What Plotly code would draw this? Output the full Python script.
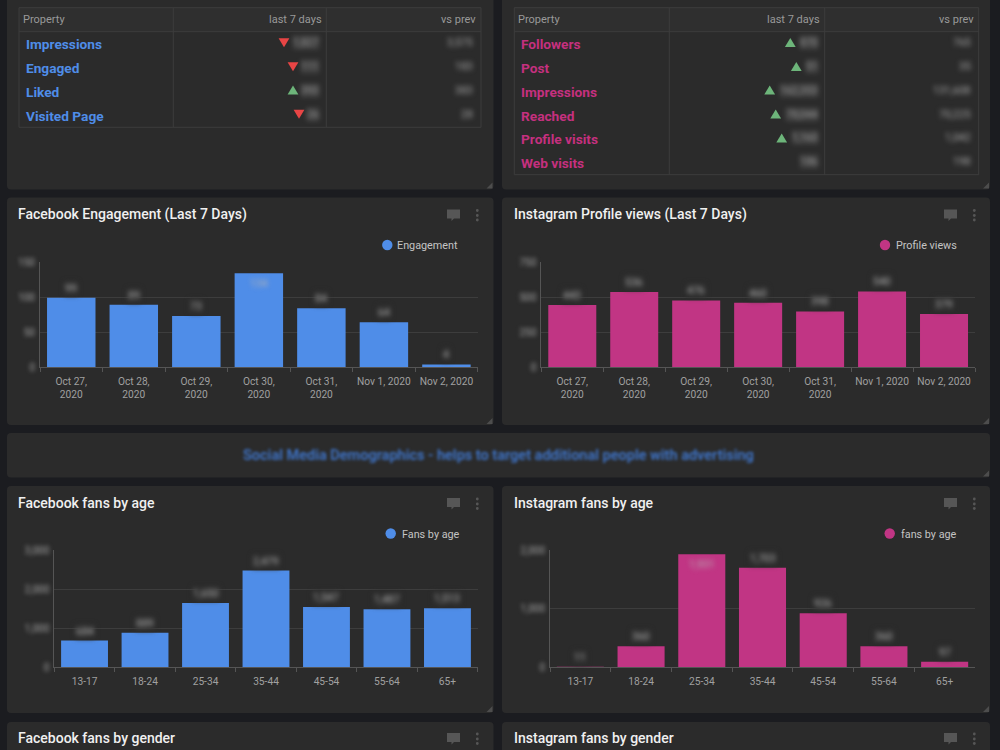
import json
import plotly.graph_objects as go

# ---------- data ----------
DATES = ["Oct 27,<br>2020", "Oct 28,<br>2020", "Oct 29,<br>2020", "Oct 30,<br>2020",
         "Oct 31,<br>2020", "Nov 1, 2020", "Nov 2, 2020"]
AGES = ["13-17", "18-24", "25-34", "35-44", "45-54", "55-64", "65+"]
FB_ENGAGEMENT = [99, 89, 73, 134, 84, 64, 4]
IG_PROFILE_VIEWS = [443, 536, 476, 460, 398, 540, 379]
FB_FANS_AGE = [684, 889, 1650, 2479, 1547, 1487, 1513]
IG_FANS_AGE = [11, 360, 1931, 1703, 926, 360, 97]
FB_ENG_TICKS = [0, 50, 100, 150]
IG_VIEW_TICKS = [0, 250, 500, 750]
FB_AGE_TICKS = [0, 1000, 2000, 3000]
IG_AGE_TICKS = [0, 1000, 2000]

FB_PROPS = ["Impressions", "Engaged", "Liked", "Visited Page"]
FB_LAST = ["1,827", "111", "393", "26"]
FB_PREV = ["3,575", "183", "383", "28"]
FB_TREND = ["down", "down", "up", "down"]
IG_PROPS = ["Followers", "Post", "Impressions", "Reached", "Profile visits", "Web visits"]
IG_LAST = ["870", "51", "162,353", "78,044", "1,160", "186"]
IG_PREV = ["765", "35", "131,608", "70,225", "1,042", "198"]
IG_TREND = ["up", "up", "up", "up", "up", None]

BANNER = "Social Media Demographics - helps to target additional people with advertising"

# ---------- style ----------
FONT = "Roboto"
PAGE = "#1b1c20"
PANEL = "#2b2b2b"
BLUE = "#4f8de8"
PINK = "#c13584"
W, H = 1000, 750
px = lambda x: x / W
py = lambda y: 1 - y / H

shapes = []
annots = []
blur = {}


def note(x, y, text, size=11, color="#999999", anchor="left", weight=400, blur_px=None,
         bg=None, xref="paper", yref="paper", yanchor="middle", yshift=0):
    a = dict(x=px(x) if xref == "paper" else x, y=py(y) if yref == "paper" else y,
             xref=xref, yref=yref, text=text, showarrow=False, xanchor=anchor, yanchor=yanchor,
             yshift=yshift, align=anchor if anchor != "center" else "center",
             font=dict(family=FONT, size=size, color=color, weight=weight),
             borderpad=0)
    if bg:
        a["bgcolor"] = bg
    annots.append(a)
    if blur_px:
        blur.setdefault(str(blur_px), []).append(len(annots) - 1)


def path(points):
    return "M" + " L".join(f"{px(x):.5f},{py(y):.5f}" for x, y in points) + " Z"


def fill(d, color, layer="below"):
    shapes.append(dict(type="path", xref="paper", yref="paper", path=d, fillcolor=color,
                       line=dict(width=0), layer=layer))


def line(x0, y0, x1, y1, color="#3d3d3d", width=1):
    shapes.append(dict(type="line", xref="paper", yref="paper", x0=px(x0), y0=py(y0), x1=px(x1),
                       y1=py(y1), line=dict(color=color, width=width), layer="below"))


def panel(x0, y0, x1, y1, r=4, grip=True):
    P = lambda x, y: f"{px(x):.5f},{py(y):.5f}"
    d = "M" + P(x0 + r, y0)
    d += " L" + P(x1 - r, y0) + " Q" + P(x1, y0) + " " + P(x1, y0 + r)
    d += " L" + P(x1, y1 - r) + " Q" + P(x1, y1) + " " + P(x1 - r, y1)
    d += " L" + P(x0 + r, y1) + " Q" + P(x0, y1) + " " + P(x0, y1 - r)
    d += " L" + P(x0, y0 + r) + " Q" + P(x0, y0) + " " + P(x0 + r, y0) + " Z"
    fill(d, PANEL)
    if grip:
        fill(path([(x1 - 1, y1 - 7), (x1 - 1, y1 - 1), (x1 - 7, y1 - 1)]), "#4d4d4d")


def icons(xc, xk, y):
    # comment bubble and kebab menu of a card header
    fill(path([(xc, y), (xc + 13, y), (xc + 13, y + 9), (xc + 7, y + 9), (xc + 4.5, y + 11.5),
               (xc + 4.5, y + 9), (xc, y + 9)]), "#565656")
    for dy in (1, 6, 10.5):
        shapes.append(dict(type="circle", xref="paper", yref="paper", x0=px(xk - 1.4), x1=px(xk + 1.4),
                           y0=py(y + dy + 1.4), y1=py(y + dy - 1.4), fillcolor="#565656",
                           line=dict(width=0), layer="below"))


# ---------- cards ----------
for (a, b) in ((7, 493.5), (502, 990)):
    panel(a, -10, b, 189.5)
    panel(a, 197.5, b, 425)
    panel(a, 486, b, 713)
    panel(a, 722, b, 760, grip=False)
panel(7, 433, 990, 477.5)

for xc, xk in ((447, 477.3), (944, 974.3)):
    for y in (209.5, 498, 733):
        icons(xc, xk, y)

TITLES = [(17, 214, "Facebook Engagement (Last 7 Days)"), (512.5, 214, "Instagram Profile views (Last 7 Days)"),
          (17, 503, "Facebook fans by age"), (512.5, 503, "Instagram fans by age"),
          (17, 738, "Facebook fans by gender"), (512.5, 738, "Instagram fans by gender")]
for x, y, t in TITLES:
    note(x, y, t, size=14, color="#f0f0f0", weight=500)

note(498, 455, BANNER, size=14.5, color="#3f76cc", anchor="center", weight=600, blur_px=1.8)


# ---------- tables ----------
def table(x0, x1, c1, c2, y1, props, last, prev, trend, color, tri_x):
    fill(path([(x0, 7.7), (x1, 7.7), (x1, 31.7), (x0, 31.7)]), "#2f2f2f")
    for a, b, c, d in ((x0, 7.7, x1, 7.7), (x0, 31.7, x1, 31.7), (x0, y1, x1, y1), (x0, 7.7, x0, y1),
                       (x1, 7.7, x1, y1), (c1, 7.7, c1, y1), (c2, 7.7, c2, y1)):
        line(a, b, c, d)
    note(x0 + 3, 20, "Property", size=11)
    note(c2 - 3.5, 20, "last 7 days", size=11, anchor="right")
    note(x1 - 4, 20, "vs prev", size=11, anchor="right")
    ys = [44, 68, 91.5, 115.5, 139.5, 163.5]
    for i, p in enumerate(props):
        note(x0 + 5.5, ys[i], p, size=13.7, color=color, weight=700)
        note(c2 - 6, ys[i] - 1.5, last[i], size=10.5, color="#9a9a9a", anchor="right", blur_px=2.4,
             bg="rgba(255,255,255,0.09)")
        note(x1 - 7, ys[i] - 1.5, prev[i], size=10.5, color="#a5a5a5", anchor="right", blur_px=2.4)
        if trend[i]:
            xt = tri_x[i]
            yc = ys[i] - 1.4
            if trend[i] == "down":
                fill(path([(xt - 5.4, yc - 4.4), (xt + 5.4, yc - 4.4), (xt, yc + 4.6)]), "#e84545")
            else:
                fill(path([(xt - 5.4, yc + 4.4), (xt + 5.4, yc + 4.4), (xt, yc - 4.6)]), "#6db57a")


table(19, 481, 173.3, 326.3, 127.3, FB_PROPS, FB_LAST, FB_PREV, FB_TREND, BLUE, [284, 293, 293, 299])
table(514.3, 978.7, 669.3, 824.7, 174.7, IG_PROPS, IG_LAST, IG_PREV, IG_TREND, "#c5307f",
      [790.3, 796.3, 769.7, 775.7, 781.7])

# ---------- bar charts ----------
fig = go.Figure()
layout_axes = {}
CHARTS = [
    (DATES, FB_ENGAGEMENT, FB_ENG_TICKS, BLUE, "Engagement", (40, 477.7, 262, 367.3), (387.3, 245, 396)),
    (DATES, IG_PROFILE_VIEWS, IG_VIEW_TICKS, PINK, "Profile views", (541.3, 975, 262, 367.3), (885, 245, 894.5)),
    (AGES, FB_FANS_AGE, FB_AGE_TICKS, BLUE, "Fans by age", (54.3, 477.7, 550.3, 667.3), (390.7, 533.5, 400.5)),
    (AGES, IG_FANS_AGE, IG_AGE_TICKS, PINK, "fans by age", (550, 975, 550.3, 667.3), (889.7, 533.5, 899.5)),
]
for n, (cats, vals, ticks, col, name, box, leg) in enumerate(CHARTS, start=1):
    x0, x1, y0, y1 = box
    xa, ya = f"x{n}", f"y{n}"
    fig.add_trace(go.Bar(x=cats, y=vals, marker=dict(color=col, line=dict(width=0)), name=name,
                         xaxis=xa, yaxis=ya, width=0.775, showlegend=False))
    layout_axes[f"xaxis{n}"] = dict(domain=[px(x0), px(x1)], anchor=ya, type="category", tickson="boundaries",
                                    ticks="outside", ticklen=4, tickcolor="#555555", tickwidth=1,
                                    showline=True, linecolor="#555555", linewidth=1, showgrid=False,
                                    tickfont=dict(family=FONT, size=10.2, color="#a0a0a0"), tickangle=0,
                                    ticklabelstandoff=4, fixedrange=True, automargin=False)
    layout_axes[f"yaxis{n}"] = dict(domain=[py(y1), py(y0)], anchor=xa, range=[0, ticks[-1]], tickvals=ticks,
                                    ticktext=[f"{t:,}" for t in ticks], showline=True, linecolor="#555555",
                                    linewidth=1, showgrid=True, gridcolor="#3d3d3d", gridwidth=1, zeroline=False,
                                    tickfont=dict(family=FONT, size=10, color="#a5a5a5"), ticks="",
                                    ticklabelstandoff=2, fixedrange=True, automargin=False)
    lx, ly, tx = leg
    shapes.append(dict(type="circle", xref="paper", yref="paper", x0=px(lx - 5.2), x1=px(lx + 5.2),
                       y0=py(ly + 5.2), y1=py(ly - 5.2), fillcolor=col, line=dict(width=0), layer="below"))
    note(tx, ly + 0.5, name, size=10.8, color="#c4c4c4")
    for c, v in zip(cats, vals):
        inside = v > 0.88 * ticks[-1]
        note(c, v, f"{v:,}", size=10.5, color="#b5b5b5", anchor="center", blur_px=2.5, xref=xa, yref=ya,
             yanchor="top" if inside else "bottom", yshift=-3 if inside else 2, bg=None if inside else PANEL)

fig.update_layout(width=W, height=H, autosize=False, margin=dict(l=0, r=0, t=0, b=0, pad=0), paper_bgcolor=PAGE,
                  plot_bgcolor="rgba(0,0,0,0)", font=dict(family=FONT), shapes=shapes, annotations=annots,
                  showlegend=False, bargap=0.225, hovermode=False, **layout_axes)

POST = """
document.body.style.margin='0';
document.documentElement.style.overflow='hidden';
var blurMap = %s;
Object.keys(blurMap).forEach(function(px){
  blurMap[px].forEach(function(i){
    var el=document.querySelector('g.annotation[data-index="'+i+'"]');
    if(el){el.style.filter='blur('+px+'px)';}
  });
});
document.querySelectorAll('g[class^="y"][class$="tick"] text').forEach(function(t){t.style.filter='blur(2.2px)';});
""" % json.dumps(blur)

fig.write_html("out.html", config=dict(displayModeBar=False, staticPlot=True), post_script=POST)
